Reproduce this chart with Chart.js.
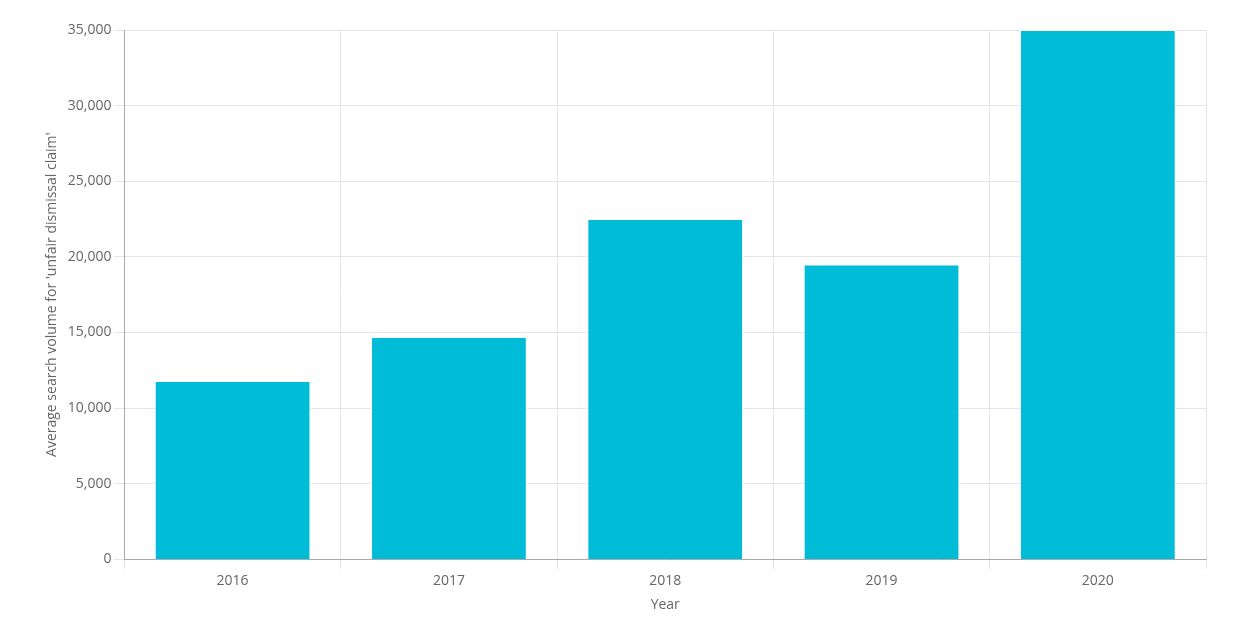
<!DOCTYPE html>
<html><head><meta charset="utf-8">
<script src="https://cdn.jsdelivr.net/npm/chart.js@4"></script>
<style>html,body{margin:0;padding:0;background:#fff}#w{width:1254px;height:635px}</style>
</head><body><div id="w"><canvas id="c"></canvas></div>
<script>
const categories = ['2016','2017','2018','2019','2020'];
const searchVolume = [11800, 14700, 22500, 19500, 35000];
const yTicks = [0,5000,10000,15000,20000,25000,30000,35000];
Chart.defaults.font.family = "'Open Sans', Arial, sans-serif";
Chart.defaults.color = '#666';
new Chart(document.getElementById('c'), {
  type: 'bar',
  data: { labels: categories, datasets: [{ data: searchVolume, backgroundColor: '#00BCD6', borderColor: '#ffffff', borderWidth: 1, categoryPercentage: 0.8, barPercentage: 0.9 }] },
  options: {
    responsive: true, maintainAspectRatio: false, animation: false,
    layout: { padding: { top: 30, right: 48, bottom: 18, left: 40 } },
    plugins: { legend: { display: false }, tooltip: { enabled: false } },
    scales: {
      x: { grid: { color: '#e5e5e5', offset: true, tickLength: 10 }, border: { color: '#aaa' },
           ticks: { font: { size: 14 }, color: '#666' },
           title: { display: true, text: 'Year', font: { size: 14 }, color: '#666' } },
      y: { min: 0, max: 35000, afterBuildTicks: a => { a.ticks = yTicks.map(v => ({ value: v })); },
           grid: { color: '#e5e5e5', tickLength: 10 }, border: { color: '#aaa' },
           ticks: { font: { size: 14 }, color: '#666' },
           title: { display: true, text: "Average search volume for 'unfair dismissal claim'", font: { size: 14 }, color: '#666' } }
    }
  }
});
</script></body></html>
